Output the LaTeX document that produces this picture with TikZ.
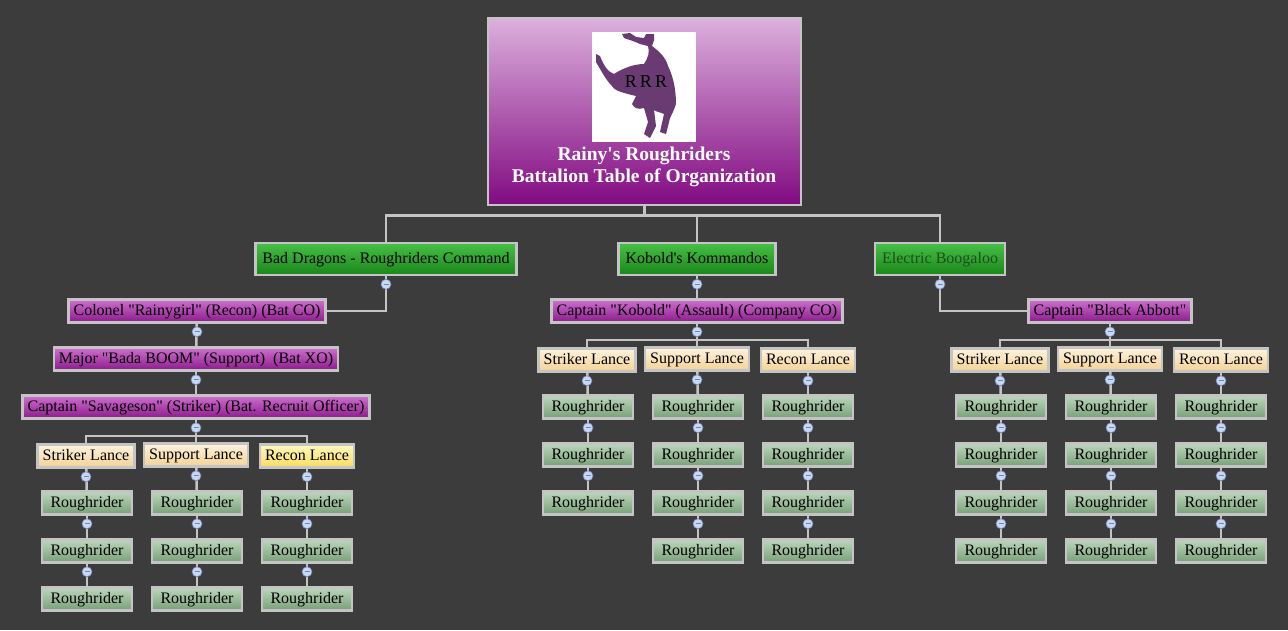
\documentclass[tikz,border=0pt]{standalone}
\usepackage{fontspec}
\setmainfont{Liberation Serif}[Ligatures=TeXOff]
\usetikzlibrary{backgrounds}
\definecolor{bg}{HTML}{3C3C3C}
\definecolor{ln}{HTML}{C4C4C4}
\tikzset{
 box/.style={draw=ln,line width=2.5pt,inner xsep=5pt,inner ysep=0pt,minimum height=23pt,text height=11.5pt,text depth=3.5pt,font=\fontsize{16}{18}\selectfont,text=black,anchor=center},
 purp/.style={box,top color=HTML_purpT,bottom color=HTML_purpB},
 grn/.style={box,top color=grnT,bottom color=grnB,minimum height=32pt,inner xsep=7pt},
 lance/.style={box,top color=lanT,bottom color=lanB},
 ylance/.style={box,top color=ylT,bottom color=ylB},
 rr/.style={box,top color=rrT,bottom color=rrB,minimum width=90pt},
 colc/.style={circle,draw=colD,fill=colF,line width=0.6pt,minimum size=10pt,inner sep=0pt,
   path picture={\draw[colD,line width=1pt] ([xshift=-2.5pt]path picture bounding box.center) -- ([xshift=2.5pt]path picture bounding box.center);}},
 conn/.style={ln,line width=2.5pt}
}
\definecolor{HTML_purpT}{HTML}{D070D0}
\definecolor{HTML_purpB}{HTML}{8A1A8A}
\definecolor{grnT}{HTML}{46C046}
\definecolor{grnB}{HTML}{1A861A}
\definecolor{lanT}{HTML}{FDF2DE}
\definecolor{lanB}{HTML}{F3D296}
\definecolor{ylT}{HTML}{FFF8C0}
\definecolor{ylB}{HTML}{F8DC60}
\definecolor{rrT}{HTML}{BCD6BC}
\definecolor{rrB}{HTML}{78A078}
\definecolor{colF}{HTML}{C8D8F4}
\definecolor{colD}{HTML}{7088B8}
\definecolor{topT}{HTML}{DCB0DC}
\definecolor{topB}{HTML}{820A82}
\definecolor{horse}{HTML}{6A3A72}
\definecolor{ebtext}{HTML}{1E4E1E}
\newcommand{\colc}[2]{\node[colc] (#1) at ([yshift=-8pt]#2.south) {};}
\begin{document}
\begin{tikzpicture}[x=1pt,y=-1pt]
\useasboundingbox (0,0) rectangle (1288,630);
% top
\node[draw=ln,line width=2.5pt,top color=topT,bottom color=topB,minimum width=313pt,minimum height=187pt,inner sep=0pt] (top) at (644.5,111.5) {};
\node[fill=white,minimum width=104pt,minimum height=110pt,inner sep=0pt] (logo) at (644,87) {};
% horse silhouette
\fill[horse] (600,56) .. controls (604,66) and (608,72) .. (614,74)
  .. controls (620,70) and (632,64) .. (644,64) .. controls (648,58) and (650,52) .. (648,46)
  -- (640,44) .. controls (636,42) and (630,40) .. (624,38) -- (622,34) -- (630,33) -- (636,37) -- (644,38) -- (646,34) -- (654,34) -- (654,40) -- (652,46)
  .. controls (660,52) and (666,58) .. (668,66) .. controls (674,78) and (676,92) .. (676,104)
  .. controls (674,110) and (672,114) .. (670,118) -- (666,134) -- (660,132) -- (664,114)
  .. controls (660,112) and (656,112) .. (654,110) -- (656,126) -- (650,138) -- (644,134) -- (648,122) -- (644,108)
  .. controls (638,110) and (634,108) .. (632,104) -- (636,96) -- (628,94)
  .. controls (620,92) and (614,90) .. (612,86) .. controls (606,80) and (602,72) .. (596,62) -- (596,54) -- cycle;
\node[font=\fontsize{18}{20}\selectfont,text=black] (rrr) at (646,82) {R\,R\,R};
\node[font=\bfseries\fontsize{19.5}{22}\selectfont,text=white,align=center] (title) at (644,167) {Rainy's Roughriders\\Battalion Table of Organization};
% level 1
\node[grn] (bd) at (386,259) {Bad Dragons - Roughriders Command};
\node[grn] (kk) at (697,259) {Kobold's Kommandos};
\node[grn,text=ebtext] (eb) at (940,259) {Electric Boogaloo};
\colc{cbd}{bd}\colc{ckk}{kk}\colc{ceb}{eb}
% left
\node[purp] (col) at (197,311) {Colonel "Rainygirl" (Recon) (Bat CO)};
\node[purp] (maj) at (196,359) {Major "Bada BOOM" (Support)\ \ (Bat XO)};
\node[purp] (sav) at (196,407) {Captain "Savageson" (Striker) (Bat. Recruit Officer)};
\colc{ccol}{col}\colc{cmaj}{maj}\colc{csav}{sav}
\node[lance] (l1) at (86,456) {Striker Lance};
\node[lance] (l2) at (196,455) {Support Lance};
\node[ylance] (l3) at (307,456) {Recon Lance};
% mid
\node[purp] (kc) at (697,311) {Captain "Kobold" (Assault) (Company CO)};
\colc{ckc}{kc}
\node[lance] (m1) at (587,360) {Striker Lance};
\node[lance] (m2) at (697,359) {Support Lance};
\node[lance] (m3) at (808,360) {Recon Lance};
% right
\node[purp] (ba) at (1110,311) {Captain "Black Abbott"};
\colc{cba}{ba}
\node[lance] (r1) at (1000,360) {Striker Lance};
\node[lance] (r2) at (1110,359) {Support Lance};
\node[lance] (r3) at (1221,360) {Recon Lance};
\foreach \l in {l1,l2,l3,m1,m2,m3,r1,r2,r3} {\colc{c\l}{\l}}
% roughriders
\foreach \n/\x/\ys/\p in {l1/87/{503,551,599}/3, l2/197/{503,551,599}/3, l3/307/{503,551,599}/3,
  m1/588/{407,455,503}/3, m2/698/{407,455,503,551}/4, m3/808/{407,455,503,551}/4,
  r1/1001/{407,455,503,551}/4, r2/1111/{407,455,503,551}/4, r3/1221/{407,455,503,551}/4} {
  \foreach \y [count=\i] in \ys {
    \node[rr] (\n r\i) at (\x,\y) {Roughrider};
    \ifnum\i<\p \colc{c\n r\i}{\n r\i}\fi
  }
}
\begin{scope}[on background layer]
\fill[bg] (0,0) rectangle (1288,630);
\draw[conn] (top.south) -- ++(0,9) -| (bd.north);
\draw[conn] (top.south) -- ++(0,9) -| (kk.north);
\draw[conn] (top.south) -- ++(0,9) -| (eb.north);
\draw[conn] (bd.south) -- (cbd.center) |- (col.east);
\draw[conn] (eb.south) -- (ceb.center) |- (ba.west);
\draw[conn] (kk) -- (kc);
\draw[conn] (col) -- (maj); \draw[conn] (maj) -- (sav);
\foreach \a/\b in {csav/l1,csav/l2,csav/l3,ckc/m1,ckc/m2,ckc/m3,cba/r1,cba/r2,cba/r3}
  \draw[conn] (\a.center) -- ++(0,8) -| (\b.north);
\draw[conn] (sav.south) -- (csav.center);
\draw[conn] (kc.south) -- (ckc.center);
\draw[conn] (ba.south) -- (cba.center);
\foreach \n/\p in {l1/3,l2/3,l3/3,m1/3,m2/4,m3/4,r1/4,r2/4,r3/4} {
  \draw[conn] (\n) -- (\n r1);
  \foreach \i [evaluate=\i as \j using int(\i+1)] in {1,...,\p} {
    \ifnum\i<\p \draw[conn] (\n r\i) -- (\n r\j);\fi
  }
}
\end{scope}
\end{tikzpicture}
\end{document}
